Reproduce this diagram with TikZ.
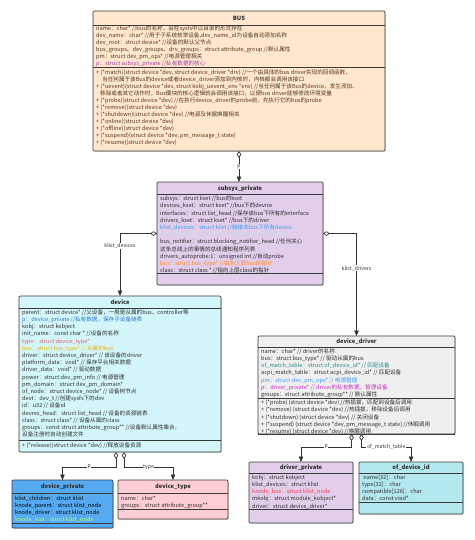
\documentclass[tikz,border=0pt]{standalone}
\usepackage{fontspec}
\setmainfont{Noto Sans CJK SC}
\usetikzlibrary{arrows.meta,calc,shadows}

\definecolor{busfill}{HTML}{FFE6CC}
\definecolor{subfill}{HTML}{E2CDEA}
\definecolor{devfill}{HTML}{D3F6FA}
\definecolor{drvfill}{HTML}{EFEFEF}
\definecolor{dprfill}{HTML}{55AAF2}
\definecolor{dtyfill}{HTML}{FFCDD4}
\definecolor{dvpfill}{HTML}{E2CDEA}
\definecolor{ofifill}{HTML}{B3E8EE}
\definecolor{boxline}{HTML}{3A3A3A}
\definecolor{connline}{HTML}{333333}
\definecolor{bustext}{HTML}{4A3B2A}
\definecolor{plaintext}{HTML}{2E2E2E}
\definecolor{purpletext}{HTML}{A040B0}
\definecolor{bluetext}{HTML}{3D9BF0}
\definecolor{paletext}{HTML}{C9D8F2}
\definecolor{orangetext}{HTML}{FF8A1F}
\definecolor{devblue}{HTML}{2F72C8}
\definecolor{redtext}{HTML}{E25B5B}
\definecolor{yellowtext}{HTML}{EDB100}
\definecolor{tealtext}{HTML}{1E8C8C}
\definecolor{magentatext}{HTML}{C62FC6}
\definecolor{greentext}{HTML}{B6FF6E}
\definecolor{crimsontext}{HTML}{F2384A}
\definecolor{labeltext}{HTML}{333333}

\tikzset{
  umlbox/.style={draw=boxline, line width=0.7pt, rounded corners=1.2pt,
    inner sep=0pt, outer sep=0pt, anchor=north west,
    drop shadow={shadow xshift=0.8pt, shadow yshift=-0.8pt, opacity=0.3}},
  ttl/.style={font=\fontsize{5.8}{6.8}\selectfont\bfseries, inner sep=0pt, anchor=center, text=plaintext},
  txt/.style={font=\fontsize{5.6}{7.2}\selectfont, align=left, inner sep=0pt, anchor=north west, text=plaintext},
  bustxt/.style={font=\fontsize{5.6}{7.0}\selectfont, align=left, inner sep=0pt, anchor=north west, text=bustext},
  sepline/.style={draw=boxline, line width=0.6pt},
  conn/.style={draw=connline, line width=0.7pt,
    {Diamond[open,fill=white,length=7pt,width=4.5pt]}-{Triangle[length=5.5pt,width=4.5pt]}},
  elab/.style={font=\fontsize{5.2}{6}\selectfont, fill=white, inner sep=0.6pt, text=labeltext},
}

\begin{document}
\begin{tikzpicture}[x=1pt,y=-1pt]
\useasboundingbox (0,0) rectangle (474,540);

% ---------------- BUS ----------------
\node[umlbox, fill=busfill, minimum width=292pt, minimum height=140pt] (bus) at (93,11) {};
\node[ttl] (bust) at (239,18) {BUS};
\draw[sepline] (93,25) -- (385,25);
\draw[sepline] (93,67) -- (385,67);
\node[bustxt] (busa) at (96,25) {%
\strut name：char* //bus的名称，会在sysfs中以目录的形式存在\\
\strut dev\_name：char* //用于子系统枚举设备,dev\_name\_id为设备自动添加名称\\
\strut dev\_root：struct device* //设备的默认父节点\\
\strut bus\_groups、dev\_groups、drv\_groups：struct attribute\_group //默认属性\\
\strut pm：struct dev\_pm\_ops* //电源管理相关\\
\strut\textcolor{purpletext}{p：struct subsys\_private //私有数据的核心}};
\node[bustxt] (busm) at (96,69) {%
\strut + (*match)(struct device *dev, struct device\_driver *drv) //一个由具体的bus driver实现的回调函数，\\
\strut\hspace{6pt}当任何属于该Bus的device或者device\_driver添加到内核时，内核都会调用该接口\\
\strut + (*uevent)(struct device *dev, struct kobj\_uevent\_env *env) //当任何属于该Bus的device，发生添加、\\
\strut\hspace{4pt}移除或者其它动作时，Bus模块的核心逻辑就会调用该接口，以便bus driver能够修改环境变量\\
\strut + (*probe)(struct device *dev) //在执行device\_driver的probe前，先执行它的bus的probe\\
\strut + (*remove)(struct device *dev)\\
\strut + (*shutdown)(struct device *dev) //电源及休眠唤醒相关\\
\strut + (*online)(struct device *dev)\\
\strut + (*offline)(struct device *dev)\\
\strut + (*suspend)(struct device *dev, pm\_message\_t state)\\
\strut + (*resume)(struct device *dev)};

% ---------------- subsys_private ----------------
\node[umlbox, fill=subfill, minimum width=166pt, minimum height=103pt] (subsys) at (157,182) {};
\node[ttl] (subt) at (240,188.5) {subsys\_private};
\draw[sepline] (157,194) -- (323,194);
\draw[sepline] (157,273) -- (323,273);
\node[txt] (suba) at (160,195.5) {%
\strut subsys：struct kset //bus的kset\\
\strut devices\_kset：struct kset* //bus下的device\\
\strut interfaces：struct list\_head //保存该bus下所有的interface\\
\strut drivers\_kset：struct kset* //bus下的driver\\
\strut\textcolor{bluetext}{klist\_devices：struct klist //链接本bus下所有device}\\
\strut\textcolor{paletext}{klist\_drivers：struct klist //链接本bus下所有driver}\\
\strut bus\_notifier：struct blocking\_notifier\_head //任何关心\\
\strut 这条总线上的事情的总线通知程序列表\\
\strut drivers\_autoprobe:1：unsigned int //自动probe\\
\strut\textcolor{orangetext}{bus：struct bus\_type* //指向上层bus的指针}\\
\strut class：struct class * //指向上层class的指针};

% ---------------- device ----------------
\node[umlbox, fill=devfill, minimum width=202pt, minimum height=156pt] (device) at (19,296) {};
\node[ttl] (devt) at (120,302.5) {device};
\draw[sepline] (19,308) -- (221,308);
\draw[sepline] (19,440) -- (221,440);
\node[txt] (deva) at (22,309) {%
\strut parent：struct device* //父设备，一般是从属的bus、controller等\\
\strut\textcolor{devblue}{p：device\_private //私有数据，保存子设备链表}\\
\strut kobj：struct kobject\\
\strut init\_name：const char * //设备的名称\\
\strut\textcolor{redtext}{type：struct device\_type*}\\
\strut\textcolor{yellowtext}{bus：struct bus\_type* // 从属的bus}\\
\strut driver：struct device\_driver* // 该设备的driver\\
\strut platform\_data：void* // 保存平台相关数据\\
\strut driver\_data：void* // 驱动数据\\
\strut power：struct dev\_pm\_info // 电源管理\\
\strut pm\_domain：struct dev\_pm\_domain*\\
\strut of\_node：struct device\_node* // 设备树节点\\
\strut devt：dev\_t //创建sysfs下的dev\\
\strut id：u32 // 设备id\\
\strut devres\_head：struct list\_head // 设备的资源链表\\
\strut class：struct class* // 设备从属的class\\
\strut groups：const struct attribute\_group** //设备默认属性集合，\\
\strut 设备注册时自动创建文件};
\node[txt] (devm) at (22,442.5) {\strut + (*release)(struct device *dev) //释放设备资源};

% ---------------- device_driver ----------------
\node[umlbox, fill=drvfill, minimum width=197pt, minimum height=98pt] (ddrv) at (258,336) {};
\node[ttl] (ddrvt) at (356.5,342) {device\_driver};
\draw[sepline] (258,347) -- (455,347);
\draw[sepline] (258,398) -- (455,398);
\node[txt, font=\fontsize{5.6}{7.1}\selectfont] (ddrva) at (261,348.5) {%
\strut name：char* // driver的名称\\
\strut bus：struct bus\_type* // 驱动从属的bus\\
\strut\textcolor{tealtext}{of\_match\_table：struct of\_device\_id* // 匹配设备}\\
\strut acpi\_match\_table：struct acpi\_device\_id* // 匹配设备\\
\strut\textcolor{bluetext}{pm：struct dev\_pm\_ops* // 电源管理}\\
\strut\textcolor{magentatext}{p：driver\_private* // driver的私有数据，管理设备}\\
\strut groups：struct attribute\_group** // 默认属性};
\node[txt] (ddrvm) at (261,399.5) {%
\strut + (*probe) (struct device *dev) //热插拔，匹配到设备后调用\\
\strut + (*remove) (struct device *dev) //热插拔，移除设备后调用\\
\strut + (*shutdown) (struct device *dev) // 关闭设备\\
\strut + (*suspend) (struct device *dev, pm\_message\_t state) //休眠调用\\
\strut + (*resume) (struct device *dev) //唤醒调用};
\draw[boxline, line width=0.7pt] (258,434) -- (455,434);

% ---------------- device_private ----------------
\node[umlbox, fill=dprfill, minimum width=101pt, minimum height=48pt] (dpriv) at (12,480) {};
\node[ttl] (dprivt) at (62.5,487) {device\_private};
\draw[sepline] (12,493) -- (113,493);
\draw[sepline] (12,523) -- (113,523);
\node[txt, text=black] (dpriva) at (15,495) {%
\strut klist\_children：struct klist\\
\strut knode\_parent：struct klist\_node\\
\strut knode\_driver：struct klist\_node\\
\strut\textcolor{greentext}{knode\_bus：struct klist\_node}};

% ---------------- device_type ----------------
\node[umlbox, fill=dtyfill, minimum width=110pt, minimum height=39pt] (dtype) at (118,480) {};
\node[ttl] (dtypet) at (173,487) {device\_type};
\draw[sepline] (118,493) -- (228,493);
\draw[sepline] (118,509) -- (228,509);
\node[txt] (dtypea) at (121,495) {%
\strut name：char*\\
\strut groups：struct attribute\_group**};
\node[txt, font=\fontsize{4}{5}\selectfont] (dtypem) at (121,511.5) {...};

% ---------------- driver_private ----------------
\node[umlbox, fill=dvpfill, minimum width=104pt, minimum height=61pt] (drvpriv) at (249,462) {};
\node[ttl] (drvprivt) at (301,467.5) {driver\_private};
\draw[sepline] (249,473) -- (353,473);
\draw[sepline] (249,509.5) -- (353,509.5);
\node[txt, font=\fontsize{5.6}{7.1}\selectfont] (drvpriva) at (252,474.5) {%
\strut kobj：struct kobject\\
\strut klist\_devices：struct klist\\
\strut\textcolor{crimsontext}{knode\_bus：struct klist\_node}\\
\strut mkobj：struct module\_kobject*\\
\strut driver：struct device\_driver*};

% ---------------- of_device_id ----------------
\node[umlbox, fill=ofifill, minimum width=104pt, minimum height=52pt] (ofid) at (359,462) {};
\node[ttl] (ofidt) at (411,467.5) {of\_device\_id};
\draw[sepline] (359,473) -- (463,473);
\draw[sepline] (359,502) -- (463,502);
\node[txt] (ofida) at (362,474) {%
\strut\ name[32]：char\\
\strut type[32]：char\\
\strut compatible[128]：char\\
\strut data：const void*};

% ---------------- connectors ----------------
\draw[conn] (bus.south) -- node[elab]{p} (bus.south |- subsys.north);
\draw[conn] (subsys.west) -| node[elab, pos=0.6]{klist\_devices} (device.north);
\draw[conn] (subsys.east) -| node[elab, pos=0.67]{klist\_drivers} (ddrv.north);

\coordinate (dvp) at ($(device.south)+(-4,0)$);
\coordinate (dvt) at ($(device.south)+(4,0)$);
\draw[conn] (dvp) -- ++(0,15) -| node[elab, pos=0.25]{p} (dpriv.north);
\draw[conn] (dvt) -- ++(0,15) -| node[elab, pos=0.25]{type} (dtype.north);

\coordinate (drp) at ($(ddrv.south)+(-5,0)$);
\coordinate (dro) at ($(ddrv.south)+(5,0)$);
\draw[conn] (drp) -- ++(0,13) -| node[elab, pos=0.25]{p} (drvpriv.north);
\draw[conn] (dro) -- ++(0,13) -| node[elab, pos=0.25]{of\_match\_table} (ofid.north);
\end{tikzpicture}
\end{document}
